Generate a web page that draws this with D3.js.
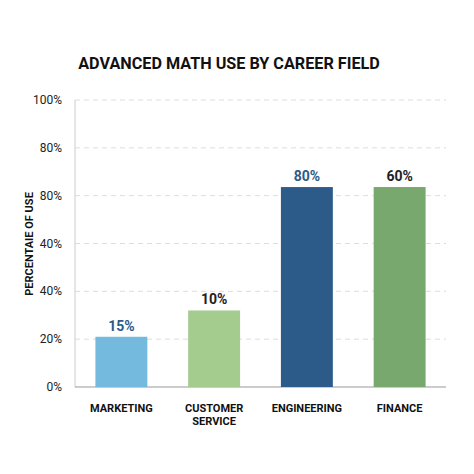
<!DOCTYPE html>
<html><head><meta charset="utf-8">
<script src="https://cdn.jsdelivr.net/npm/d3@7"></script>
<style>body{margin:0;background:#fff}</style></head>
<body><svg id="c" width="474" height="474"></svg>
<script>
const categories = [["MARKETING"],["CUSTOMER","SERVICE"],["ENGINEERING"],["FINANCE"]];
const values = [21, 32, 83.6, 83.6];
const barLabels = ["15%","10%","80%","60%"];
const barColors = ["#74b9de","#a4cc8e","#2c5b8a","#78a86e"];
const labelColors = ["#2c5b8a","#222","#2c5b8a","#222"];
const tickValues = [0,20,40,60,80,100,120];
const tickLabels = ["0%","20%","40%","40%","80%","80%","100%"];

const svg = d3.select("#c");
const y = d3.scaleLinear().domain([0,120]).range([387,100]);
const x = d3.scaleBand().domain(d3.range(4)).range([75,446]).paddingInner(0.44).paddingOuter(0.22);
const font = "Roboto, 'DejaVu Sans', sans-serif";

svg.append("text").attr("x",229).attr("y",69).attr("text-anchor","middle")
  .attr("font-family",font).attr("font-weight","bold").attr("font-size",16.2).attr("fill","#111")
  .text("ADVANCED MATH USE BY CAREER FIELD");

svg.selectAll(".g").data(tickValues.slice(1)).enter().append("line")
  .attr("x1",75).attr("x2",446).attr("y1",d=>y(d)).attr("y2",d=>y(d))
  .attr("stroke","#ddd").attr("stroke-dasharray","5,4");

tickValues.forEach((t,i)=>{
  svg.append("text").attr("x",62).attr("y",y(t)+4).attr("text-anchor","end")
    .attr("font-family",font).attr("font-size",12).attr("fill","#222").text(tickLabels[i]);
});
svg.append("line").attr("x1",75).attr("x2",75).attr("y1",100).attr("y2",387).attr("stroke","#ccc");
svg.append("line").attr("x1",75).attr("x2",446).attr("y1",387).attr("y2",387).attr("stroke","#999");

svg.append("text").attr("transform","translate(33,244) rotate(-90)").attr("text-anchor","middle")
  .attr("font-family",font).attr("font-weight","bold").attr("font-size",11).attr("fill","#111")
  .text("PERCENTAIE OF USE");

values.forEach((v,i)=>{
  svg.append("rect").attr("x",x(i)).attr("width",x.bandwidth()).attr("y",y(v)).attr("height",y(0)-y(v))
    .attr("fill",barColors[i]);
  svg.append("text").attr("x",x(i)+x.bandwidth()/2).attr("y",y(v)-6).attr("text-anchor","middle")
    .attr("font-family",font).attr("font-weight","bold").attr("font-size",14).attr("fill",labelColors[i])
    .text(barLabels[i]);
  categories[i].forEach((l,j)=>{
    svg.append("text").attr("x",x(i)+x.bandwidth()/2).attr("y",412+j*13).attr("text-anchor","middle")
      .attr("font-family",font).attr("font-weight","bold").attr("font-size",11).attr("fill","#111").text(l);
  });
});
</script></body></html>
